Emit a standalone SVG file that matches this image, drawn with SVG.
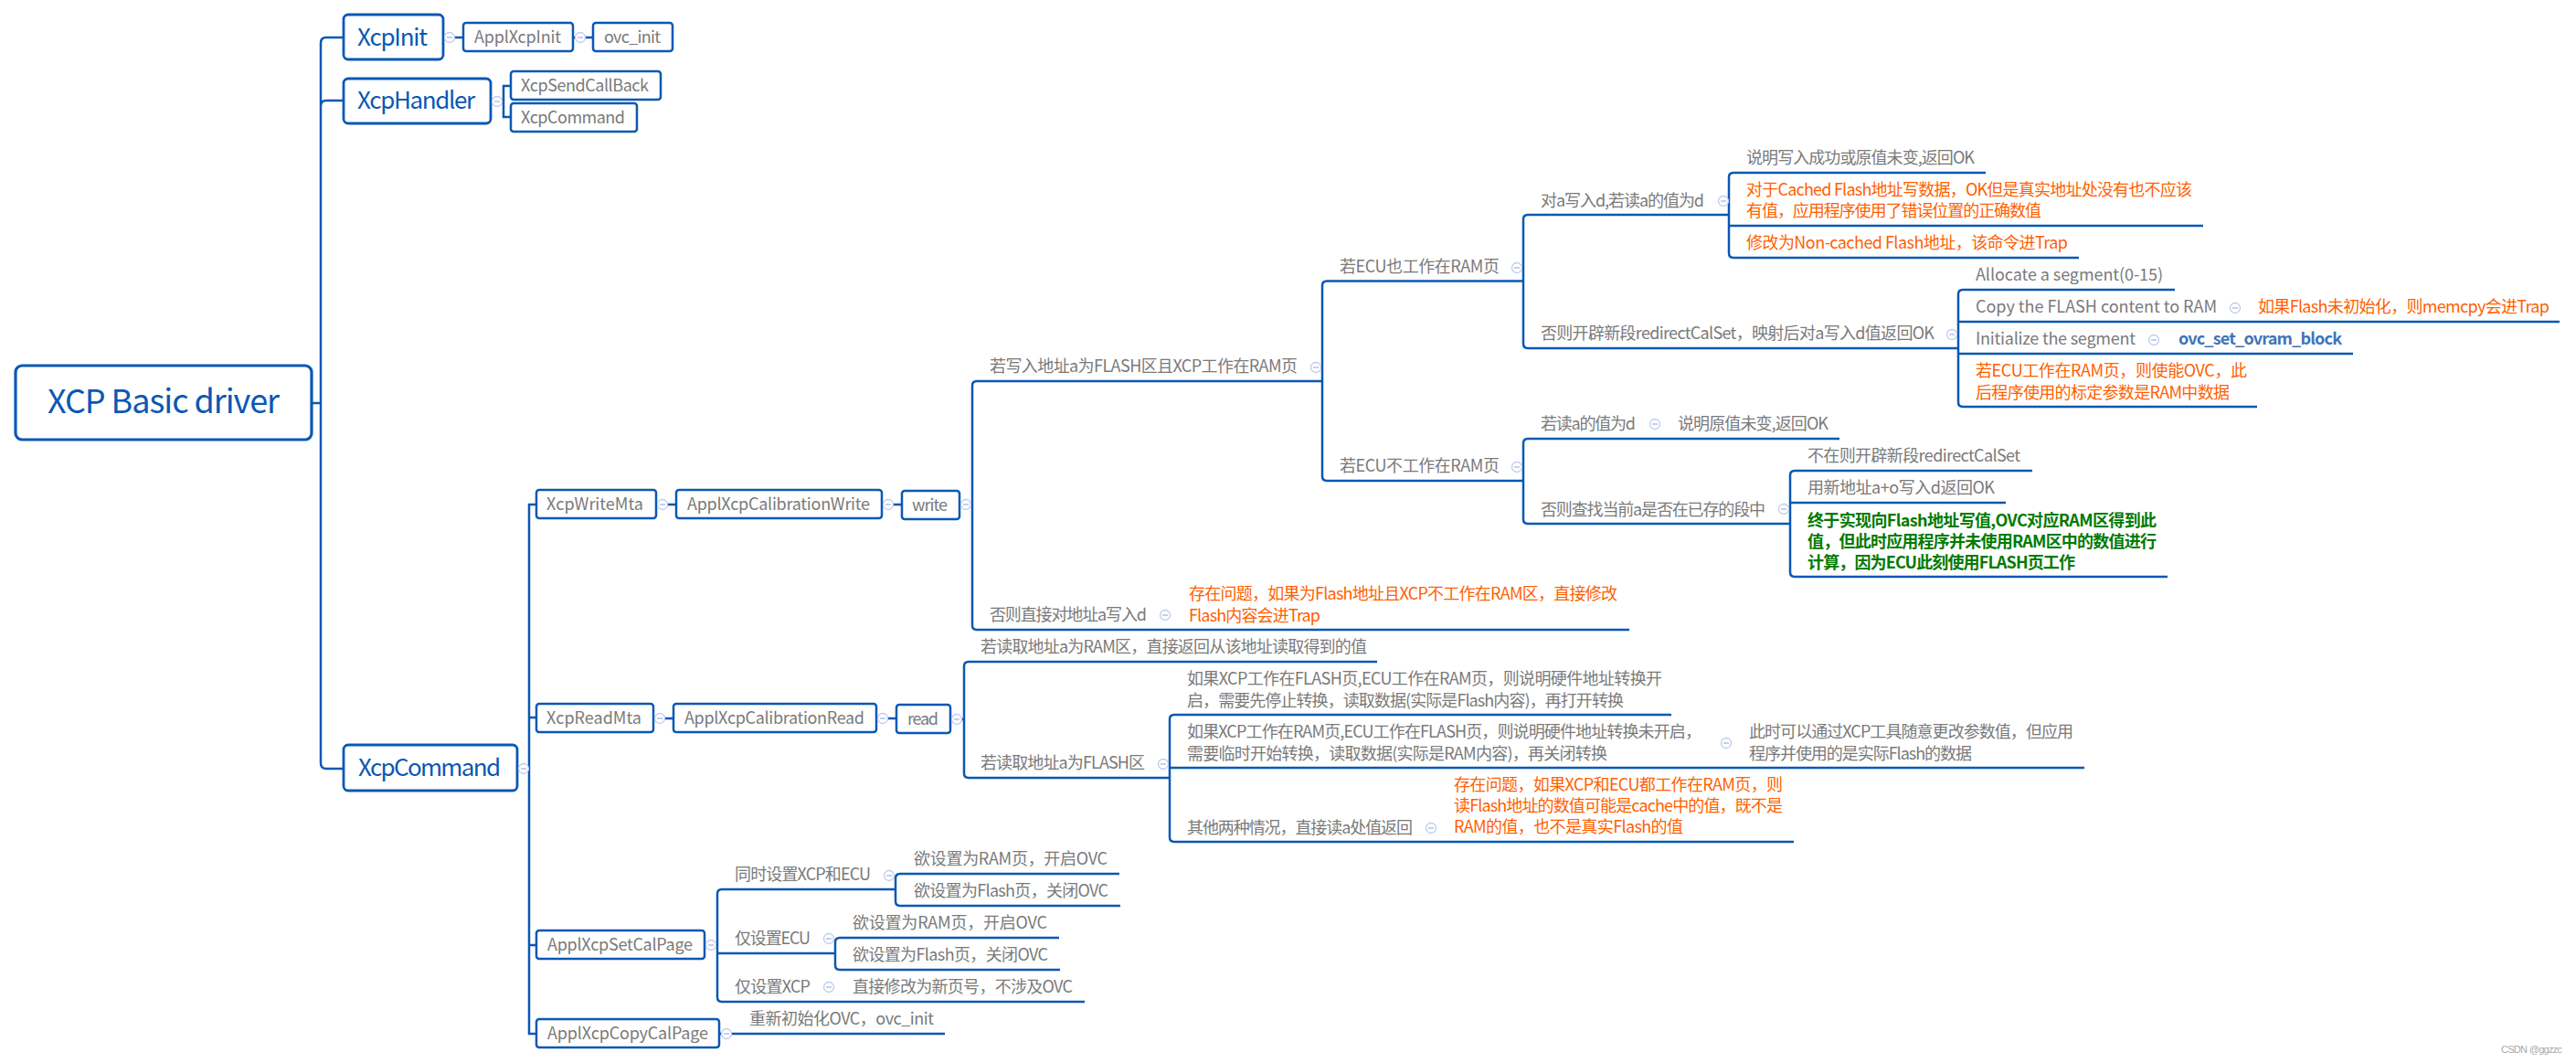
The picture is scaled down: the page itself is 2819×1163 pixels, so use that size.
<svg xmlns="http://www.w3.org/2000/svg" width="2819" height="1163" viewBox="0 0 2819 1163">
<style>
text{font-family:"Noto Sans CJK SC","Open Sans","Liberation Sans",sans-serif;font-size:18px;fill:#7a7a7a}
.o{fill:#ff5f00}
.g{fill:#007a00;font-weight:700}
.b{fill:#3f74b8;font-weight:700}
.t1{fill:#0a58b4;font-size:26px}
.t0{fill:#0a58b4;font-size:36px}
.box{fill:#fff;stroke:#0a58b4;stroke-width:2.5}
.box1{fill:#fff;stroke:#0a58b4;stroke-width:2.8}
.box0{fill:#fff;stroke:#0a58b4;stroke-width:3.2}
#connectors path{fill:none;stroke:#0a58b4;stroke-width:2.5}
.ic circle{fill:#fff;stroke:#bccaf0;stroke-width:1.3}
.ic path{stroke:#9fb0de;stroke-width:1.2;fill:none}
.wm{font-size:11px;fill:#a8a8a8;font-family:"Liberation Sans",sans-serif}
</style>
<defs>
<g id="c" class="ic"><circle r="5.5"/><path d="M-3 0H3"/></g>
</defs>
<rect width="2819" height="1163" fill="#fff"/>
<g id="connectors">
<path d="M342 441H351M376 41H357Q351 41 351 47V835Q351 841 357 841H376M376 110H357Q351 110 351 116"/>
<path d="M485 41H507M627 41H649"/>
<path d="M537 110H551M559 94H551V128H559"/>
<path d="M566 841H579M587 552H579V1131H587M579 785H587M579 1034H587"/>
<path d="M718 552H740M965 552H987M1050 552H1064"/>
<path d="M715 786H737M959 786H981M1040 787H1055"/>
<path d="M1447 417H1069Q1064 417 1064 422V684Q1064 689 1069 689H1783"/>
<path d="M1667 307.500H1452Q1447 307.500 1447 312.500V521Q1447 526 1452 526H1667"/>
<path d="M1892 235H1672Q1667 235 1667 240V376Q1667 381 1672 381H2143"/>
<path d="M2013 480H1672Q1667 480 1667 485V568Q1667 573 1672 573H1959"/>
<path d="M2173 189H1897Q1892 189 1892 194V277Q1892 282 1897 282H2275M1892 247H2411"/>
<path d="M2380 317H2148Q2143 317 2143 322V440Q2143 445 2148 445H2470M2143 352H2801M2143 387H2575"/>
<path d="M2224 515H1964Q1959 515 1959 520V626Q1959 631 1964 631H2372M1959 550H2195"/>
<path d="M1507 724H1060Q1055 724 1055 729V846Q1055 851 1060 851H1280"/>
<path d="M1829 782H1285Q1280 782 1280 787V916Q1280 921 1285 921H1963M1280 840H2281"/>
<path d="M771 1034H785M980 973H790Q785 973 785 978V1091Q785 1096 790 1096H1187M785 1043H914"/>
<path d="M1225 956H985Q980 956 980 961V986Q980 991 985 991H1226"/>
<path d="M1159 1026H919Q914 1026 914 1031V1056Q914 1061 919 1061H1160"/>
<path d="M787 1131H1034"/>
</g>
<g id="root"><rect class="box0" x="17" y="400" width="324" height="81" rx="7"/><text class="t0" x="52" y="452" textLength="254">XCP Basic driver</text></g>
<g id="xcpinit"><rect class="box1" x="376" y="16" width="109" height="49" rx="5"/><text class="t1" x="391" y="50" textLength="77">XcpInit</text><use href="#c" x="492" y="41"/></g>
<g id="applxcpinit"><rect class="box" x="507" y="25" width="120" height="31" rx="3"/><text x="519" y="47" textLength="95">ApplXcpInit</text><use href="#c" x="635" y="41"/></g>
<g id="ovc_init"><rect class="box" x="649" y="25" width="87" height="31" rx="3"/><text x="661" y="47" textLength="62">ovc_init</text></g>
<g id="xcphandler"><rect class="box1" x="376" y="86" width="161" height="49" rx="5"/><text class="t1" x="391" y="119" textLength="129">XcpHandler</text><use href="#c" x="544" y="111"/></g>
<g id="xcpsendcallback"><rect class="box" x="559" y="78" width="164" height="31" rx="3"/><text x="570" y="100" textLength="140">XcpSendCallBack</text></g>
<g id="xcpcommand-small"><rect class="box" x="559" y="113" width="138" height="31" rx="3"/><text x="570" y="135" textLength="114">XcpCommand</text></g>
<g id="xcpcommand"><rect class="box1" x="376" y="815" width="190" height="50" rx="5"/><text class="t1" x="392" y="849" textLength="156">XcpCommand</text><use href="#c" x="573" y="841"/></g>
<g id="xcpwritemta"><rect class="box" x="587" y="536" width="131" height="31" rx="3"/><text x="598" y="558" textLength="106">XcpWriteMta</text><use href="#c" x="725" y="552"/></g>
<g id="applwrite"><rect class="box" x="740" y="536" width="225" height="31" rx="3"/><text x="752" y="558" textLength="200">ApplXcpCalibrationWrite</text><use href="#c" x="972" y="552"/></g>
<g id="write"><rect class="box" x="987" y="537" width="63" height="31" rx="3"/><text x="998" y="559" textLength="39">write</text><use href="#c" x="1057" y="552"/></g>
<g id="xcpreadmta"><rect class="box" x="587" y="770" width="128" height="31" rx="3"/><text x="598" y="792" textLength="104">XcpReadMta</text><use href="#c" x="722" y="786"/></g>
<g id="applread"><rect class="box" x="737" y="770" width="222" height="31" rx="3"/><text x="749" y="792" textLength="197">ApplXcpCalibrationRead</text><use href="#c" x="966" y="786"/></g>
<g id="read"><rect class="box" x="981" y="771" width="59" height="31" rx="3"/><text x="993" y="793" textLength="34">read</text><use href="#c" x="1047" y="787"/></g>
<g id="setcalpage"><rect class="box" x="587" y="1018" width="184" height="31" rx="3"/><text x="599" y="1040" textLength="159">ApplXcpSetCalPage</text><use href="#c" x="778" y="1034"/></g>
<g id="copycalpage"><rect class="box" x="587" y="1115" width="200" height="31" rx="3"/><text x="599" y="1137" textLength="176">ApplXcpCopyCalPage</text><use href="#c" x="795" y="1131"/></g>
<g id="w1"><text x="1083" y="407" textLength="337">若写入地址a为FLASH区且XCP工作在RAM页</text><use href="#c" x="1440" y="402"/></g>
<g id="w2"><text x="1466" y="298" textLength="175">若ECU也工作在RAM页</text><use href="#c" x="1660" y="293"/></g>
<g id="w3"><text x="1466" y="516" textLength="175">若ECU不工作在RAM页</text><use href="#c" x="1660" y="511"/></g>
<g id="w4"><text x="1686" y="226" textLength="179">对a写入d,若读a的值为d</text><use href="#c" x="1886" y="220"/></g>
<g id="w5"><text x="1911" y="179" textLength="250">说明写入成功或原值未变,返回OK</text></g>
<g id="w6"><text class="o" x="1911" y="214" textLength="488">对于Cached Flash地址写数据，OK但是真实地址处没有也不应该</text><text class="o" x="1911" y="237" textLength="323">有值，应用程序使用了错误位置的正确数值</text></g>
<g id="w7"><text class="o" x="1911" y="272" textLength="352">修改为Non-cached Flash地址，该命令进Trap</text></g>
<g id="w8"><text x="1686" y="371" textLength="431">否则开辟新段redirectCalSet，映射后对a写入d值返回OK</text><use href="#c" x="2136" y="366"/></g>
<g id="w9"><text x="2162" y="307" textLength="205">Allocate a segment(0-15)</text></g>
<g id="w10"><text x="2162" y="342" textLength="264">Copy the FLASH content to RAM</text><use href="#c" x="2446" y="337"/></g>
<g id="w11"><text class="o" x="2471" y="342" textLength="319">如果Flash未初始化，则memcpy会进Trap</text></g>
<g id="w12"><text x="2162" y="377" textLength="175">Initialize the segment</text><use href="#c" x="2357" y="372"/></g>
<g id="w13"><text class="b" x="2384" y="377" textLength="179">ovc_set_ovram_block</text></g>
<g id="w14"><text class="o" x="2162" y="412" textLength="297">若ECU工作在RAM页，则使能OVC，此</text><text class="o" x="2162" y="436" textLength="278">后程序使用的标定参数是RAM中数据</text></g>
<g id="w15"><text x="1686" y="470" textLength="104">若读a的值为d</text><use href="#c" x="1811" y="464"/></g>
<g id="w16"><text x="1836" y="470" textLength="165">说明原值未变,返回OK</text></g>
<g id="w17"><text x="1686" y="564" textLength="246">否则查找当前a是否在已存的段中</text><use href="#c" x="1952" y="557"/></g>
<g id="w18"><text x="1978" y="505" textLength="233">不在则开辟新段redirectCalSet</text></g>
<g id="w19"><text x="1978" y="540" textLength="205">用新地址a+o写入d返回OK</text></g>
<g id="w20"><text class="g" x="1978" y="576" textLength="382">终于实现向Flash地址写值,OVC对应RAM区得到此</text><text class="g" x="1978" y="599" textLength="382">值，但此时应用程序并未使用RAM区中的数值进行</text><text class="g" x="1978" y="622" textLength="293">计算，因为ECU此刻使用FLASH页工作</text></g>
<g id="w21"><text x="1083" y="679" textLength="172">否则直接对地址a写入d</text><use href="#c" x="1275" y="673"/></g>
<g id="w22"><text class="o" x="1301" y="656" textLength="469">存在问题，如果为Flash地址且XCP不工作在RAM区，直接修改</text><text class="o" x="1301" y="680" textLength="144">Flash内容会进Trap</text></g>
<g id="r1"><text x="1073" y="714" textLength="423">若读取地址a为RAM区，直接返回从该地址读取得到的值</text></g>
<g id="r2"><text x="1073" y="841" textLength="180">若读取地址a为FLASH区</text><use href="#c" x="1273" y="836"/></g>
<g id="r3"><text x="1299" y="749" textLength="520">如果XCP工作在FLASH页,ECU工作在RAM页，则说明硬件地址转换开</text><text x="1299" y="773" textLength="478">启，需要先停止转换，读取数据(实际是Flash内容)，再打开转换</text></g>
<g id="r4"><text x="1299" y="807" textLength="563">如果XCP工作在RAM页,ECU工作在FLASH页，则说明硬件地址转换未开启，</text><text x="1299" y="831" textLength="460">需要临时开始转换，读取数据(实际是RAM内容)，再关闭转换</text><use href="#c" x="1889" y="813"/></g>
<g id="r5"><text x="1914" y="807" textLength="355">此时可以通过XCP工具随意更改参数值，但应用</text><text x="1914" y="831" textLength="244">程序并使用的是实际Flash的数据</text></g>
<g id="r6"><text x="1299" y="912" textLength="247">其他两种情况，直接读a处值返回</text><use href="#c" x="1566" y="906"/></g>
<g id="r7"><text class="o" x="1591" y="865" textLength="360">存在问题，如果XCP和ECU都工作在RAM页，则</text><text class="o" x="1591" y="888" textLength="360">读Flash地址的数值可能是cache中的值，既不是</text><text class="o" x="1591" y="911" textLength="251">RAM的值，也不是真实Flash的值</text></g>
<g id="s1"><text x="804" y="963" textLength="149">同时设置XCP和ECU</text><use href="#c" x="973" y="958"/></g>
<g id="s2"><text x="1000" y="946" textLength="212">欲设置为RAM页，开启OVC</text></g>
<g id="s3"><text x="1000" y="981" textLength="213">欲设置为Flash页，关闭OVC</text></g>
<g id="s4"><text x="804" y="1033" textLength="83">仅设置ECU</text><use href="#c" x="907" y="1027"/></g>
<g id="s5"><text x="933" y="1016" textLength="213">欲设置为RAM页，开启OVC</text></g>
<g id="s6"><text x="933" y="1051" textLength="214">欲设置为Flash页，关闭OVC</text></g>
<g id="s7"><text x="804" y="1086" textLength="83">仅设置XCP</text><use href="#c" x="907" y="1080"/></g>
<g id="s8"><text x="933" y="1086" textLength="241">直接修改为新页号，不涉及OVC</text></g>
<g id="s9"><text x="820" y="1121" textLength="202">重新初始化OVC，ovc_init</text></g>
<text class="wm" x="2737" y="1152" textLength="67">CSDN @ggzzc</text>
</svg>
